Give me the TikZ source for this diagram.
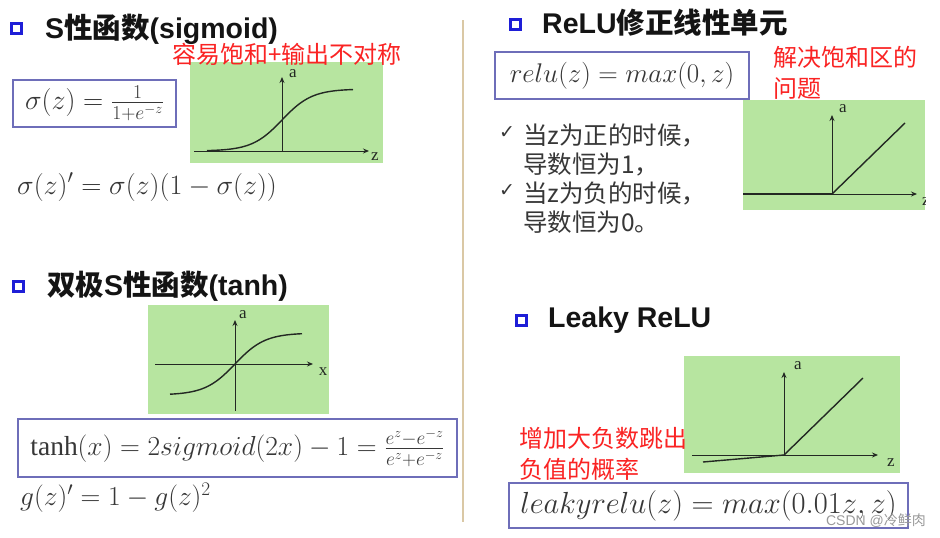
\documentclass[tikz,border=0pt]{standalone}
\usepackage{fix-cm}
\usepackage{amsmath}
\usepackage{fontspec}
\setmainfont{Liberation Serif}
\setsansfont{Liberation Sans}
\newfontfamily\cjk{Noto Sans CJK SC}
\newfontfamily\symf{DejaVu Sans}
\usetikzlibrary{arrows.meta}
\definecolor{plotgreen}{RGB}{183,229,160}
\definecolor{boxblue}{RGB}{110,110,185}
\definecolor{bulletblue}{RGB}{30,30,215}
\definecolor{redtxt}{RGB}{250,35,35}
\definecolor{mathgray}{RGB}{55,55,55}
\definecolor{divider}{RGB}{218,200,165}
\definecolor{axisc}{RGB}{35,40,35}
\newcommand\hz[1]{{\cjk\bfseries #1}}
\newcommand\lt[1]{{\sffamily\bfseries #1}}
\begin{document}
\begin{tikzpicture}[x=1pt,y=-1pt,
  bulletbox/.style={draw=bulletblue, line width=3pt, fill=white, minimum size=10pt, inner sep=0pt},
  heading/.style={anchor=base west, inner sep=0pt, text=black!92, font=\fontsize{28.5}{32}\selectfont},
  redlabel/.style={anchor=west, inner sep=0pt, text=redtxt, align=left, font=\cjk\fontsize{24}{31}\selectfont},
  formbox/.style={draw=boxblue, line width=1.5pt, inner sep=0pt, text=mathgray},
  mathtxt/.style={inner sep=0pt, text=mathgray},
  plotbg/.style={fill=plotgreen},
  axis/.style={draw=axisc, line width=0.9pt, -{Stealth[length=6pt,width=5pt]}},
  curve/.style={draw=axisc, line width=1.4pt},
  axlabel/.style={inner sep=0pt, text=axisc, font=\fontsize{17}{17}\selectfont},
  graytxt/.style={inner sep=0pt, text=mathgray, align=left, font=\cjk\fontsize{24.5}{29}\selectfont},
  checkmk/.style={inner sep=0pt, text=mathgray, font=\symf\fontsize{19}{19}\selectfont}
]
\useasboundingbox (0,0) rectangle (940,538);
\fill[white] (0,0) rectangle (940,538);

% divider
\draw[divider, line width=2pt] (463,20) -- (463,522);

% ---------- sigmoid ----------
\node[bulletbox] (b1) at (16.5,28.5) {};
\node[heading] (h1) at (45,38) {\lt{S}\hz{性函数}\lt{(sigmoid)}};
\node[formbox, minimum width=163pt, minimum height=47pt] (f1) at (94.5,103.5)
  {\fontsize{28}{30}\selectfont$\sigma(z)=\frac{1}{1+e^{-z}}$};
\node[mathtxt, anchor=base west] (d1) at (17,194)
  {\fontsize{28}{30}\selectfont$\sigma(z)'=\sigma(z)(1-\sigma(z))$};
\fill[plotgreen] (190,62) rectangle (383,163);
\coordinate (o1) at (282,151);
\draw[axis] (194,151) -- (369,151);
\draw[axis] (o1) -- (282,77);
\node[axlabel] (a1) at (293,74) {a};
\node[axlabel] (z1) at (375,157) {z};
\draw[curve] plot[domain=207:353, samples=100, smooth] (\x,{151-62/(1+exp(-(\x-282)/15))});
\node[redlabel] (r1) at (172,54) {容易饱和+输出不对称};

% ---------- tanh ----------
\node[bulletbox] (b3) at (18.5,286.5) {};
\node[heading] (h3) at (47,295) {\hz{双极}\lt{S}\hz{性函数}\lt{(tanh)}};
\fill[plotgreen] (148,305) rectangle (329,414);
\coordinate (o3) at (235,364);
\draw[axis] (155,364) -- (313,364);
\draw[axis] (235,411) -- (235,320);
\node[axlabel] (a3) at (243,315) {a};
\node[axlabel] (x3) at (323,372) {x};
\draw[curve] plot[domain=170:302, samples=100, smooth] (\x,{364-31*tanh((\x-235)/30)});
\node[formbox, minimum width=439pt, minimum height=58pt] (f3) at (237.5,448)
  {\fontsize{27.5}{30}\selectfont$\tanh(x)=2sigmoid(2x)-1=\frac{e^z-e^{-z}}{e^z+e^{-z}}$};
\node[mathtxt, anchor=base west] (d3) at (20,505)
  {\fontsize{27.5}{30}\selectfont$g(z)'=1-g(z)^2$};

% ---------- ReLU ----------
\node[bulletbox] (b2) at (515.5,24) {};
\node[heading] (h2) at (542,33) {\lt{ReLU}\hz{修正线性单元}};
\node[formbox, minimum width=254pt, minimum height=47pt] (f2) at (622,75.5)
  {\fontsize{27}{30}\selectfont$relu(z)=max(0,z)$};
\node[checkmk] (c1) at (507,133) {✓};
\node[checkmk] (c2) at (507,191) {✓};
\node[graytxt, anchor=west] (t2) at (523,178.5) {当z为正的时候，\\导数恒为1，\\当z为负的时候，\\导数恒为0。};
\fill[plotgreen] (743,100) rectangle (925,210);
\coordinate (o2) at (832,194);
\draw[axis] (743,194) -- (917,194);
\draw[axisc, line width=1.6pt] (743,194) -- (o2);
\draw[axis] (o2) -- (832,115);
\draw[curve] (o2) -- (905,123);
\node[axlabel] (a2) at (843,109) {a};
\begin{scope}
\clip (0,0) rectangle (925,538);
\node[axlabel] (z2) at (926,202) {z};
\end{scope}
\node[redlabel] (r2) at (773,72.5) {解决饱和区的\\问题};

% ---------- Leaky ReLU ----------
\node[bulletbox] (b4) at (521.5,320) {};
\node[heading] (h4) at (548,327) {\lt{Leaky ReLU}};
\fill[plotgreen] (684,356) rectangle (900,473);
\coordinate (o4) at (784,455);
\draw[axis] (692,455) -- (878,455);
\draw[axis] (o4) -- (784,372);
\draw[curve] (703,462) -- (o4) -- (863,378);
\node[axlabel] (a4) at (798,366) {a};
\node[axlabel] (z4) at (891,463) {z};
\node[redlabel] (r4) at (519,453.5) {增加大负数跳出\\负值的概率};
\node[formbox, minimum width=399pt, minimum height=45pt] (f4) at (708.5,505.5)
  {\fontsize{30.5}{32}\selectfont$leakyrelu(z)=max(0.01z,z)$};
\node[inner sep=0pt, text=black!40, font=\fontsize{14}{14}\selectfont] (wm) at (876,521)
  {\sffamily CSDN @{\cjk 冷鲜肉}};
\end{tikzpicture}
\end{document}
